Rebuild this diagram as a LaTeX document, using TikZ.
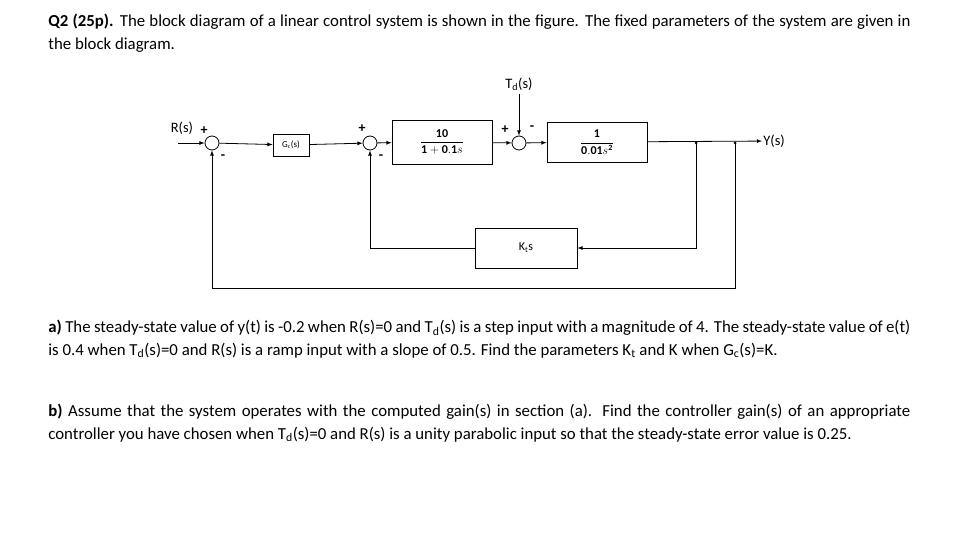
\documentclass[tikz,border=0pt]{standalone}
\usepackage{amsmath}
\usepackage{fontspec}
\setmainfont{Carlito}
\usetikzlibrary{positioning}
\tikzset{
    block/.style = {
        draw,
        thick,
        rectangle,
        minimum height=40pt,
        inner sep=2pt
    },
    sum/.style = {
        draw,
        circle,
        minimum size=14pt,
        inner sep=0pt
    },
    sig/.style = {
        ->,
        >=latex
    },
    sign/.style = {
        font=\fontsize{14}{14}\selectfont\bfseries
    },
    para/.style = {
        anchor=north west,
        text width=862pt,
        align=justify,
        inner sep=0pt,
        font=\fontsize{16.8}{22.5}\selectfont
    }
}

\begin{document}
\begin{tikzpicture}[x=1pt,y=-1pt,line width=0.8pt]
    \useasboundingbox (0,0) rectangle (956,548);

    % Text of the question
    \node[para] (head) at (48,14) {\textbf{Q2 (25p).} The block diagram of a linear control system is shown in the figure. The fixed parameters of the system are given in the block diagram.};
    \node[para] (parta) at (48,320) {\textbf{a)} The steady-state value of y(t) is -0.2 when R(s)=0 and T\textsubscript{d}(s) is a step input with a magnitude of 4. The steady-state value of e(t) is 0.4 when T\textsubscript{d}(s)=0 and R(s) is a ramp input with a slope of 0.5. Find the parameters K\textsubscript{t} and K when G\textsubscript{c}(s)=K.};
    \node[para] (partb) at (48,404) {\textbf{b)} Assume that the system operates with the computed gain(s) in section (a). Find the controller gain(s) of an appropriate controller you have chosen when T\textsubscript{d}(s)=0 and R(s) is a unity parabolic input so that the steady-state error value is 0.25.};

    % Blocks and summing points
    \node[sum] (s1) at (212,143) {};
    \node[block, minimum width=36pt, minimum height=22pt, font=\small] (gc) at (291,145) {G\textsubscript{c}(s)};
    \node[sum] (s2) at (370,143) {};
    \node[block, minimum width=100pt, minimum height=44pt, font=\large] (g1) at (442,142) {$\dfrac{\mathbf{10}}{\mathbf{1+0.1}s}$};
    \node[sum] (s3) at (519,143) {};
    \node[block, minimum width=100pt, font=\large] (g2) at (597,142) {$\dfrac{\mathbf{1}}{\mathbf{0.01}s^{\mathbf{2}}}$};
    \node[block, minimum width=102pt, font=\large] (kt) at (526,248) {K\textsubscript{t}s};

    % Signals
    \node[font=\Large] (r) at (182,128) {R(s)};
    \coordinate (rin) at (178,143);
    \node[anchor=west, inner sep=1pt, font=\Large] (y) at (762,141) {Y(s)};
    \node[font=\Large] (td) at (519,84) {T\textsubscript{d}(s)};
    \coordinate (b1) at (696,143);
    \coordinate (b2) at (735,143);
    \fill (b1) circle (1.5pt) (b2) circle (1.5pt);

    \draw[sig] (rin) -- (s1);
    \draw[sig] (s1) -- (gc);
    \draw[sig] (gc) -- (s2);
    \draw[sig] (s2) -- (g1);
    \draw[sig] (g1) -- (s3);
    \draw[sig] (s3) -- (g2);
    \draw[sig] (g2) -- (y);
    \draw[sig] (td) -- (s3);
    \draw[sig] (b1) |- (kt);
    \draw[sig] (kt) -| (s2);
    \draw[sig] (b2) |- (212,288) -- (s1);

    % Signs
    \node[sign] at (204,131) {+};
    \node[sign] at (223,157) {-};
    \node[sign] at (362,129) {+};
    \node[sign] at (381,157) {-};
    \node[sign] at (505,130) {+};
    \node[sign] at (532,128) {-};
\end{tikzpicture}
\end{document}
